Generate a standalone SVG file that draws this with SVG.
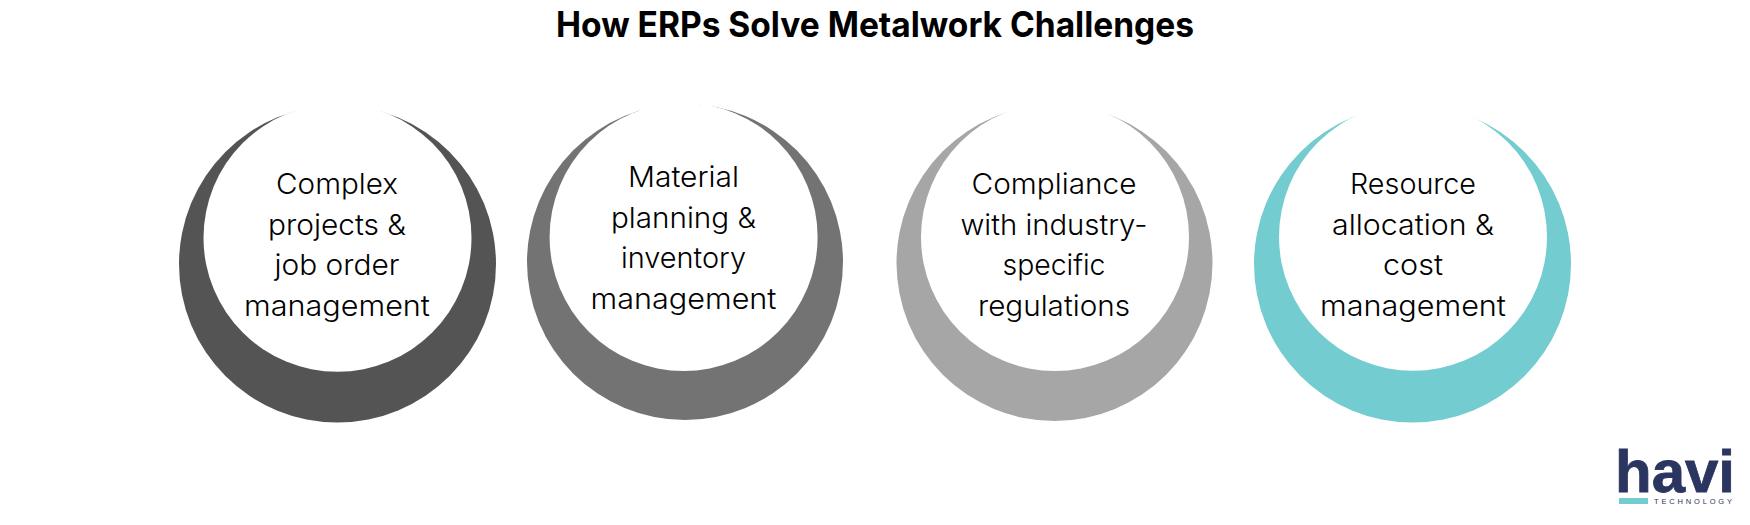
<svg xmlns="http://www.w3.org/2000/svg" width="1750" height="525" viewBox="0 0 1750 525">
<style>
.t{font-family:"Inter","Liberation Sans",sans-serif;font-size:29px;font-weight:300;fill:#000;text-anchor:middle}
.h{font-family:"Inter","Liberation Sans",sans-serif;font-size:35px;font-weight:700;fill:#000;text-anchor:middle}
.i{fill:#fff}
</style>
<rect width="1750" height="525" fill="#fff"/>
<text id="title" class="h" x="875" y="37" textLength="638" lengthAdjust="spacingAndGlyphs">How ERPs Solve Metalwork Challenges</text>
<g id="node1">
<circle cx="337.500" cy="264" r="158.500" fill="#545454"/><circle class="i" cx="337.500" cy="237.800" r="134"/>
<text class="t" x="337" y="194" textLength="122" lengthAdjust="spacingAndGlyphs">Complex</text>
<text class="t" x="337" y="235" textLength="138" lengthAdjust="spacingAndGlyphs">projects &amp;</text>
<text class="t" x="337" y="275" textLength="125" lengthAdjust="spacingAndGlyphs">job order</text>
<text class="t" x="337" y="316" textLength="186" lengthAdjust="spacingAndGlyphs">management</text>
</g>
<g id="node2">
<circle cx="685" cy="262" r="158" fill="#737373"/><circle class="i" cx="683.600" cy="237" r="134"/>
<text class="t" x="683.500" y="187" textLength="111" lengthAdjust="spacingAndGlyphs">Material</text>
<text class="t" x="683.500" y="228" textLength="145" lengthAdjust="spacingAndGlyphs">planning &amp;</text>
<text class="t" x="683.500" y="268" textLength="125" lengthAdjust="spacingAndGlyphs">inventory</text>
<text class="t" x="683.500" y="309" textLength="186" lengthAdjust="spacingAndGlyphs">management</text>
</g>
<g id="node3">
<circle cx="1054.500" cy="263" r="158" fill="#a6a6a6"/><circle class="i" cx="1055" cy="237" r="134"/>
<text class="t" x="1054" y="194" textLength="165" lengthAdjust="spacingAndGlyphs">Compliance</text>
<text class="t" x="1054" y="235" textLength="187" lengthAdjust="spacingAndGlyphs">with industry-</text>
<text class="t" x="1054" y="275" textLength="103" lengthAdjust="spacingAndGlyphs">specific</text>
<text class="t" x="1054" y="316" textLength="152" lengthAdjust="spacingAndGlyphs">regulations</text>
</g>
<g id="node4">
<circle cx="1412.500" cy="264" r="158.500" fill="#73ccd0"/><circle class="i" cx="1413" cy="236.800" r="134"/>
<text class="t" x="1413" y="194" textLength="126" lengthAdjust="spacingAndGlyphs">Resource</text>
<text class="t" x="1413" y="235" textLength="162" lengthAdjust="spacingAndGlyphs">allocation &amp;</text>
<text class="t" x="1413" y="275" textLength="60" lengthAdjust="spacingAndGlyphs">cost</text>
<text class="t" x="1413" y="316" textLength="186" lengthAdjust="spacingAndGlyphs">management</text>
</g>
<g id="logo">
<text x="1615" y="492" font-family="'Liberation Sans',Arial,sans-serif" font-size="60" font-weight="700" fill="#2a3560" stroke="#2a3560" stroke-width="0.8" textLength="120" lengthAdjust="spacingAndGlyphs">havi</text>
<rect x="1619" y="498" width="29" height="6" fill="#73ccd0"/>
<text x="1654" y="504" font-family="'Liberation Sans',Arial,sans-serif" font-size="7.500" fill="#2a3560" textLength="78">TECHNOLOGY</text>
</g>
</svg>
